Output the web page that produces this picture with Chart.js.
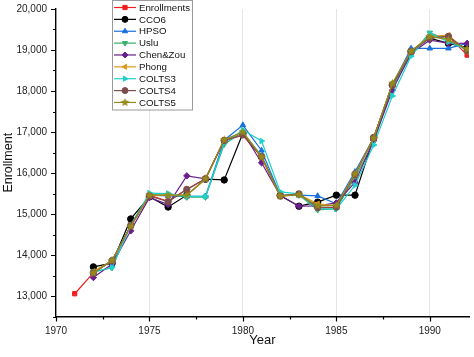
<!DOCTYPE html>
<html><head><meta charset="utf-8">
<script src="https://cdn.jsdelivr.net/npm/chart.js@4.4.0/dist/chart.umd.min.js"></script>
<style>html,body{margin:0;padding:0;background:#fff;}#wrap{width:474px;height:357px;position:relative;}</style>
</head><body><div id="wrap"><canvas id="c" width="474" height="357"></canvas></div>
<script>
const years = [1971,1972,1973,1974,1975,1976,1977,1978,1979,1980,1981,1982,1983,1984,1985,1986,1987,1988,1989,1990,1991,1992];
const enrollments = [13055,13563,13867,14696,15460,15311,15603,15861,16807,16919,16388,15433,15497,15145,15163,15984,16859,18150,18970,19328,19337,18876];
// forecasts 1972-1992
const cco6     = [13710,13800,14880,15420,15170,15460,15850,15830,16970,16390,15450,15190,15290,15460,15460,16860,18150,18970,19290,19160,19060];
const hpso     = [13560,13870,14700,15460,15440,15430,15430,16800,17170,16550,15460,15460,15440,15250,16030,16860,18150,19040,19040,19040,19160];
const uslu     = [13590,13690,14750,15470,15470,15410,15410,16700,17000,16420,15440,15460,15100,15130,15890,16750,18100,18880,19420,19250,19000];
const chenZou  = [13450,13780,14590,15400,15230,15930,15860,16800,16990,16250,15450,15190,15200,15270,15770,16800,18020,18920,19240,19170,19160];
const phong    = [13600,13850,14700,15450,15460,15460,15850,16800,16990,16380,15430,15480,15250,15200,15950,16860,18170,18960,19330,19360,18960];
const colts3   = [13580,13700,14710,15510,15500,15430,15430,16730,17050,16780,15540,15490,15130,15120,15700,16680,17880,18850,19400,19200,19000];
const colts4   = [13560,13860,14720,15440,15300,15600,15860,16790,16930,16400,15440,15490,15160,15170,15960,16860,18140,18960,19290,19330,18990];
const colts5   = [13560,13870,14700,15460,15460,15460,15860,16810,17000,16390,15440,15470,15200,15210,15980,16850,18190,18970,19330,19250,19020];
const seriesNames = ['Enrollments','CCO6','HPSO','Uslu','Chen&Zou','Phong','COLTS3','COLTS4','COLTS5'];
const xTickLabels = [1970,1975,1980,1985,1990];
const yTickLabels = [13000,14000,15000,16000,17000,18000,19000,20000];

const FONT = "'Liberation Sans', Arial, sans-serif";
function starImg(color, r) {
  const s = Math.ceil(r * 2 + 2);
  const c = document.createElement('canvas'); c.width = c.height = s;
  const g = c.getContext('2d'); g.fillStyle = color; g.beginPath();
  for (let i = 0; i < 10; i++) {
    const a = -Math.PI / 2 + i * Math.PI / 5; const rr = i % 2 ? r * 0.45 : r;
    g.lineTo(s / 2 + rr * Math.cos(a), s / 2 + rr * Math.sin(a));
  }
  g.closePath(); g.fill(); return c;
}
const styles = [
  {color:'#f01e1e', ps:'rect', rot:0},
  {color:'#000000', ps:'circle', rot:0},
  {color:'#1a6fdf', ps:'triangle', rot:0},
  {color:'#37ad6b', ps:'triangle', rot:180},
  {color:'#6b1e8e', ps:'rectRot', rot:0},
  {color:'#dd9a1c', ps:'triangle', rot:-90},
  {color:'#1fd0d0', ps:'triangle', rot:90},
  {color:'#7d4e4e', ps:'circle', rot:0},
  {color:'#958a1a', ps:null, rot:0}
];
styles[8].ps = starImg(styles[8].color, 4.5);
const values = [enrollments, cco6, hpso, uslu, chenZou, phong, colts3, colts4, colts5];

const datasets = values.map((vals, i) => {
  const yrs = i === 0 ? years : years.slice(1);
  const st = styles[i];
  return {
    label: seriesNames[i],
    data: vals.map((v, k) => ({x: yrs[k], y: v})),
    borderColor: st.color, backgroundColor: st.color,
    borderWidth: 1.2, pointStyle: st.ps, pointRotation: st.rot,
    pointRadius: i === 0 ? 3 : 3.2, pointBorderWidth: 1, pointBackgroundColor: st.color, pointBorderColor: st.color,
    order: 8 - i, tension: 0
  };
});

const overlay = {
  id: 'overlay',
  afterDraw(chart) {
    const ctx = chart.ctx; const xs = chart.scales.x, ys = chart.scales.y;
    const ax = xs.left, ay = ys.bottom;
    ctx.save();
    ctx.strokeStyle = '#000'; ctx.lineWidth = 1.2;
    ctx.beginPath();
    for (let v = 12500; v <= 20000; v += 500) {
      const p = Math.round(ys.getPixelForValue(v)) + 0.5;
      const L = v % 1000 === 0 ? 5 : 3;
      ctx.moveTo(ax - L, p); ctx.lineTo(ax, p);
    }
    for (let v = 1970; v <= 1992; v += 2.5) {
      const p = Math.round(xs.getPixelForValue(v)) + 0.5;
      const L = v % 5 === 0 ? 5 : 3;
      ctx.moveTo(p, ay); ctx.lineTo(p, ay + L);
    }
    ctx.stroke();
    // legend
    const lx = 112.5, ly = 0.5, lw = 80, lh = 109.5;
    ctx.fillStyle = '#fff'; ctx.fillRect(lx, ly, lw, lh);
    ctx.strokeStyle = '#9a9a9a'; ctx.lineWidth = 1; ctx.strokeRect(lx, ly, lw, lh);
    ctx.font = '9.7px ' + FONT; ctx.textBaseline = 'middle'; ctx.textAlign = 'left';
    for (let i = 0; i < seriesNames.length; i++) {
      const y = 7.5 + i * 11.87; const st = styles[i];
      ctx.strokeStyle = st.color; ctx.lineWidth = 1.2;
      ctx.beginPath(); ctx.moveTo(114, y); ctx.lineTo(136, y); ctx.stroke();
      ctx.fillStyle = st.color; ctx.strokeStyle = st.color; ctx.lineWidth = 1;
      Chart.helpers.drawPoint(ctx, {pointStyle: st.ps, rotation: st.rot, radius: 3, borderWidth: 1}, 125, y);
      ctx.fillStyle = '#111';
      ctx.fillText(seriesNames[i], 139, y + 0.5);
    }
    ctx.restore();
  }
};

new Chart(document.getElementById('c'), {
  type: 'line',
  data: {datasets},
  options: {
    responsive: false, animation: false, devicePixelRatio: 1,
    layout: {padding: {top: 9, right: 2, left: 0, bottom: 0}},
    plugins: {legend: {display: false}, tooltip: {enabled: false}},
    scales: {
      x: {
        type: 'linear', min: 1970, max: 1992.1,
        afterFit: s => { s.height = 40.5; s.paddingLeft = 0; s.paddingRight = 0; },
        grid: {drawTicks: false, color: c => (c.tick && xTickLabels.includes(c.tick.value) && c.tick.value !== 1970) ? '#e4e4e4' : 'rgba(0,0,0,0)', lineWidth: 1},
        border: {display: true, color: '#000', width: 1.4},
        ticks: {stepSize: 5, includeBounds: false, padding: 9, color: '#222', font: {family: FONT, size: 10},
          callback: v => xTickLabels.includes(v) ? String(v) : ''},
        title: {display: true, text: 'Year', color: '#111', font: {family: FONT, size: 13}, padding: {top: 0, bottom: 9}}
      },
      y: {
        type: 'linear', min: 12500, max: 20000,
        afterFit: s => { s.width = 56; s.paddingTop = 0; s.paddingBottom = 0; },
        grid: {display: true, drawTicks: false, drawOnChartArea: false},
        border: {display: true, color: '#000', width: 1.4},
        ticks: {stepSize: 500, padding: 9, color: '#222', font: {family: FONT, size: 10},
          callback: v => yTickLabels.includes(v) ? v.toLocaleString('en-US') : ''},
        title: {display: true, text: 'Enrollment', color: '#111', font: {family: FONT, size: 12.5}, padding: {top: 1, bottom: 0}}
      }
    }
  },
  plugins: [overlay]
});
</script></body></html>
